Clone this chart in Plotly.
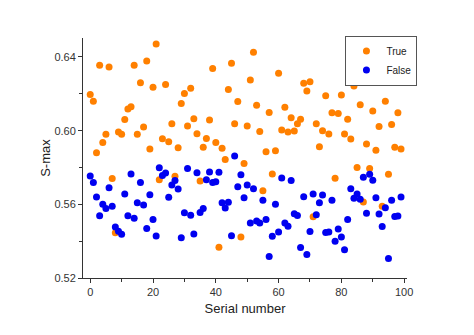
import plotly.graph_objects as go

serial = list(range(100))

true_vals = [
    0.6196, 0.616, 0.588, 0.6355, 0.5936, 0.598, 0.6346, 0.574, 0.5445, 0.5993,
    0.598, 0.606, 0.6118, 0.613, 0.6355, 0.598, 0.626, 0.602, 0.6378, 0.590,
    0.6235, 0.647, 0.5734, 0.5956, 0.625, 0.594, 0.6038, 0.5753, 0.5907, 0.6147,
    0.6202, 0.6025, 0.623, 0.6065, 0.5983, 0.5727, 0.591, 0.5958, 0.6058, 0.6337,
    0.5936, 0.5367, 0.5905, 0.5843, 0.6224, 0.6366, 0.6038, 0.6158, 0.5423, 0.5821,
    0.6025, 0.6275, 0.6425, 0.6138, 0.5996, 0.5674, 0.5885, 0.6098, 0.5764, 0.5891,
    0.6311, 0.6004, 0.6127, 0.5993, 0.607, 0.5998, 0.6038, 0.6062, 0.6257, 0.6215,
    0.6266, 0.5532, 0.6038, 0.5913, 0.600, 0.619, 0.5982, 0.6097, 0.5742, 0.6093,
    0.6193, 0.5982, 0.6062, 0.5955, 0.6242, 0.580, 0.614, 0.5613, 0.5927, 0.5794,
    0.6107, 0.5894, 0.6023, 0.5589, 0.616, 0.5763, 0.6033, 0.591, 0.6097, 0.590,
]

false_vals = [
    0.5754, 0.5718, 0.564, 0.5538, 0.560, 0.5578, 0.569, 0.559, 0.5477, 0.5454,
    0.5437, 0.5656, 0.5538, 0.5765, 0.5525, 0.5608, 0.5718, 0.5596, 0.5469, 0.5652,
    0.5518, 0.5428, 0.5798, 0.5756, 0.577, 0.5638, 0.5705, 0.5729, 0.5683, 0.5419,
    0.5554, 0.5794, 0.5541, 0.5439, 0.5772, 0.5556, 0.5578, 0.5734, 0.5776, 0.5718,
    0.5723, 0.5774, 0.5608, 0.558, 0.5611, 0.543, 0.5863, 0.5696, 0.5761, 0.5636,
    0.5705, 0.5499, 0.5685, 0.551, 0.5498, 0.5622, 0.5518, 0.5317, 0.5427, 0.560,
    0.545, 0.5743, 0.5498, 0.5481, 0.5729, 0.5549, 0.554, 0.5365, 0.5641, 0.5327,
    0.5452, 0.5656, 0.5543, 0.5608, 0.565, 0.5447, 0.545, 0.5622, 0.540, 0.5466,
    0.5423, 0.5354, 0.5518, 0.5685, 0.5633, 0.5656, 0.5627, 0.5747, 0.5552, 0.5763,
    0.5731, 0.5636, 0.5548, 0.548, 0.5581, 0.5306, 0.5622, 0.5534, 0.5537, 0.564,
]

x_ticks = [0, 20, 40, 60, 80, 100]
y_ticks = [0.52, 0.56, 0.60, 0.64]

FONT = "Liberation Sans, Arial, sans-serif"

fig = go.Figure()
fig.add_trace(go.Scatter(x=serial, y=true_vals, mode="markers", name="True",
                         marker=dict(color="#FF8000", size=7, line=dict(width=0))))
fig.add_trace(go.Scatter(x=serial, y=false_vals, mode="markers", name="False",
                         marker=dict(color="#0000F0", size=7, line=dict(width=0))))

fig.update_layout(
    width=474, height=335,
    margin=dict(l=83, r=67, t=38, b=57),
    paper_bgcolor="white", plot_bgcolor="white",
    font=dict(family=FONT, size=11, color="#333333"),
    showlegend=True,
    legend=dict(x=0.81, y=1.01, xanchor="left", yanchor="top",
                bordercolor="#555555", borderwidth=1, bgcolor="white",
                font=dict(size=10, color="#222222"),
                itemwidth=30, tracegroupgap=0),
    xaxis=dict(range=[-2.3, 100.9], tickvals=x_ticks, ticks="outside", ticklen=4,
               tickcolor="#333333", showline=True, linecolor="#333333", linewidth=1,
               showgrid=False, zeroline=False,
               minor=dict(tickvals=[10, 30, 50, 70, 90], ticks="outside", ticklen=3,
                          tickcolor="#333333"),
               title=dict(text="Serial number", font=dict(size=13, color="#222222"), standoff=6),
               tickfont=dict(size=11)),
    yaxis=dict(range=[0.52, 0.6503], tickvals=y_ticks, tickformat=".2f", ticks="outside",
               ticklen=4, tickcolor="#333333", showline=True, linecolor="#333333", linewidth=1,
               showgrid=False, zeroline=False,
               minor=dict(tickvals=[0.54, 0.58, 0.62], ticks="outside", ticklen=3,
                          tickcolor="#333333"),
               title=dict(text="S-max", font=dict(size=13, color="#222222"), standoff=0),
               tickfont=dict(size=11)),
)

fig.write_html("out.html")
